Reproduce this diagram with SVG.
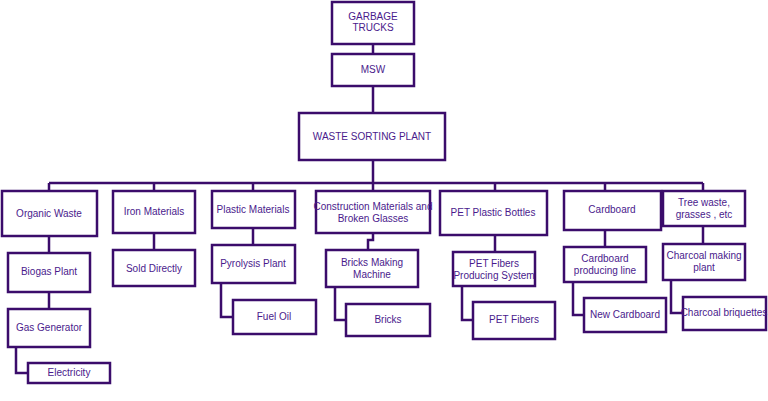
<svg xmlns="http://www.w3.org/2000/svg" width="768" height="401" viewBox="0 0 768 401">
<style>
rect{fill:#fff;stroke:#3b0c6b;stroke-width:2.5}
.c path{fill:none;stroke:#3b0c6b;stroke-width:2.5}
text{font-family:"Liberation Sans",Arial,sans-serif;font-size:10px;fill:#4a1a8c;text-anchor:middle}
</style>
<rect width="768" height="401" style="fill:#fff;stroke:none"/>
<g class="c">
<path d="M373 44V54M373 86V113M373 160V183M49 183H703M49 183V191M154 183V191M253 183V191M373 183V191M495 183V191M605 183V191M703 183V191"/>
<path d="M49 236V253M49 292V309M16 347V373H28"/>
<path d="M154 233V250"/>
<path d="M253 228V245M221 283V317H233"/>
<path d="M373 233V240H368V250M335 287V320H346"/>
<path d="M495 235V252M462 286V320H473"/>
<path d="M605 230V247M573 282V315H584"/>
<path d="M703 226V244M671 280V313H683"/>
</g>
<g id="garbage"><rect x="332" y="2" width="82" height="42"/><text x="373" y="20">GARBAGE</text><text x="373" y="31">TRUCKS</text></g>
<g id="msw"><rect x="332" y="54" width="82" height="32"/><text x="373" y="73">MSW</text></g>
<g id="sorting"><rect x="299" y="113" width="146" height="47"/><text x="372" y="140">WASTE SORTING PLANT</text></g>
<g id="organic"><rect x="2" y="191" width="95" height="45"/><text x="49" y="217">Organic Waste</text></g>
<g id="biogas"><rect x="8" y="253" width="82" height="39"/><text x="49" y="275">Biogas Plant</text></g>
<g id="gasgen"><rect x="8" y="309" width="82" height="38"/><text x="49" y="331">Gas Generator</text></g>
<g id="electricity"><rect x="28" y="363" width="82" height="20"/><text x="69" y="376">Electricity</text></g>
<g id="iron"><rect x="113" y="191" width="82" height="42"/><text x="154" y="215">Iron Materials</text></g>
<g id="sold"><rect x="113" y="250" width="82" height="36"/><text x="154" y="272">Sold Directly</text></g>
<g id="plastic"><rect x="212" y="191" width="83" height="37"/><text x="253" y="213">Plastic Materials</text></g>
<g id="pyrolysis"><rect x="212" y="245" width="83" height="38"/><text x="253" y="267">Pyrolysis Plant</text></g>
<g id="fueloil"><rect x="233" y="300" width="83" height="34"/><text x="274" y="320">Fuel Oil</text></g>
<g id="construction"><rect x="316" y="191" width="114" height="42"/><text x="373" y="210">Construction Materials and</text><text x="373" y="222">Broken Glasses</text></g>
<g id="bricksmachine"><rect x="326" y="250" width="92" height="37"/><text x="372" y="266">Bricks Making</text><text x="372" y="278">Machine</text></g>
<g id="bricks"><rect x="346" y="304" width="84" height="32"/><text x="388" y="323">Bricks</text></g>
<g id="pet"><rect x="440" y="191" width="107" height="44"/><text x="493" y="216">PET Plastic Bottles</text></g>
<g id="petsys"><rect x="453" y="252" width="82" height="34"/><text x="494" y="267">PET Fibers</text><text x="494" y="279">Producing System</text></g>
<g id="petfibers"><rect x="473" y="302" width="82" height="37"/><text x="514" y="323">PET Fibers</text></g>
<g id="cardboard"><rect x="564" y="191" width="97" height="39"/><text x="612" y="213">Cardboard</text></g>
<g id="cardline"><rect x="564" y="247" width="82" height="35"/><text x="605" y="262">Cardboard</text><text x="605" y="274">producing line</text></g>
<g id="newcard"><rect x="584" y="298" width="82" height="34"/><text x="625" y="318">New Cardboard</text></g>
<g id="tree"><rect x="663" y="191" width="82" height="35"/><text x="704" y="206">Tree waste,</text><text x="704" y="218">grasses , etc</text></g>
<g id="charcoalplant"><rect x="663" y="244" width="82" height="36"/><text x="704" y="259">Charcoal making</text><text x="704" y="271">plant</text></g>
<g id="briquettes"><rect x="683" y="297" width="83" height="33"/><text x="724" y="316">Charcoal briquettes</text></g>
</svg>
